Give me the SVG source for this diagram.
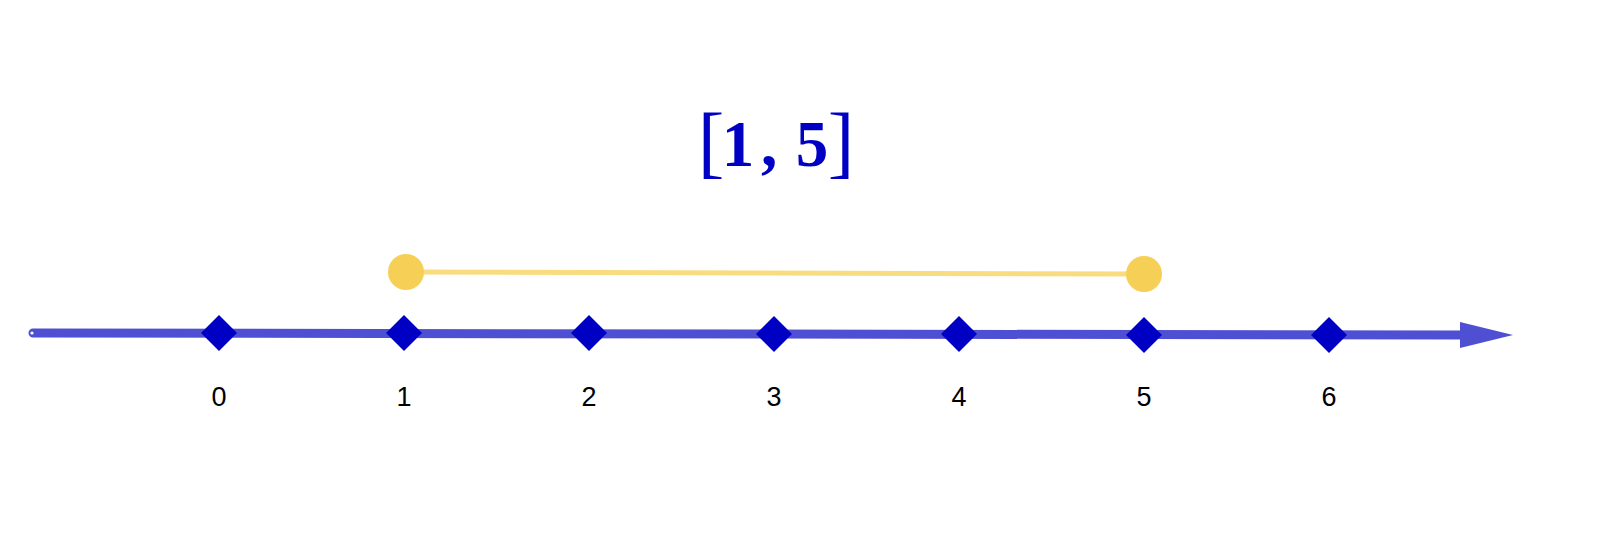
<svg xmlns="http://www.w3.org/2000/svg" width="1610" height="536" viewBox="0 0 1610 536">
<style>
.tick{fill:#0000c4}
.lbl{font-family:"Liberation Sans",Arial,sans-serif;font-size:27px;fill:#000;text-anchor:middle}
.ept{fill:#f6cf56}
.ttl{font-family:"Liberation Serif","Times New Roman",serif;fill:#0000c4;text-anchor:middle}
.br{font-size:80px;font-weight:normal}
.dg{font-size:65px;font-weight:bold}
</style>
<rect width="1610" height="536" fill="#fff"/>
<g id="connectors">
<line id="axis" x1="33" y1="333" x2="1464" y2="335" stroke="#4f4fd4" stroke-width="9" stroke-linecap="round"/>
<polygon points="1460,322 1513,335 1460,348" fill="#4f4fd4"/>
<circle cx="32" cy="333" r="1.6" fill="#fff"/>
<line id="interval" x1="406" y1="272" x2="1144" y2="274" stroke="#f9dc80" stroke-width="5"/>
</g>
<g id="title">
<text class="ttl"><tspan class="br" x="711" y="168">[</tspan><tspan class="dg" x="738" y="166">1</tspan><tspan class="dg" x="769" y="166">,</tspan><tspan class="dg" x="812" y="166">5</tspan><tspan class="br" x="841" y="168">]</tspan></text>
</g>
<g id="tick0"><polygon class="tick" points="219,315 237,333 219,351 201,333"/><text class="lbl" x="219" y="406">0</text></g>
<g id="tick1"><polygon class="tick" points="404,315 422,333 404,351 386,333"/><text class="lbl" x="404" y="406">1</text></g>
<g id="tick2"><polygon class="tick" points="589,315 607,333 589,351 571,333"/><text class="lbl" x="589" y="406">2</text></g>
<g id="tick3"><polygon class="tick" points="774,316 792,334 774,352 756,334"/><text class="lbl" x="774" y="406">3</text></g>
<g id="tick4"><polygon class="tick" points="959,316 977,334 959,352 941,334"/><text class="lbl" x="959" y="406">4</text></g>
<g id="tick5"><polygon class="tick" points="1144,317 1162,335 1144,353 1126,335"/><text class="lbl" x="1144" y="406">5</text></g>
<g id="tick6"><polygon class="tick" points="1329,317 1347,335 1329,353 1311,335"/><text class="lbl" x="1329" y="406">6</text></g>
<g id="start"><circle class="ept" cx="406" cy="272" r="18"/></g>
<g id="end"><circle class="ept" cx="1144" cy="274" r="18"/></g>
</svg>
